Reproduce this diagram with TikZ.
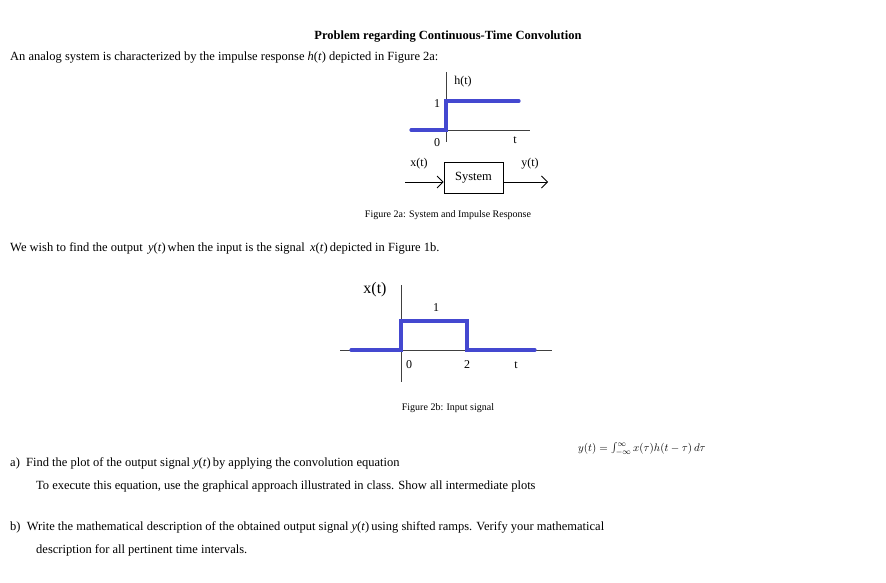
\documentclass[tikz,border=0pt]{standalone}
\usepackage{fontspec}
\setmainfont{Liberation Serif}
\usetikzlibrary{arrows.meta}
\begin{document}
\begin{tikzpicture}[x=1pt,y=-1pt,
  txt/.style={anchor=west,inner sep=0,font=\fontsize{12.5}{14}\selectfont},
  lbl/.style={inner sep=0,font=\fontsize{12}{14}\selectfont},
  figcap/.style={inner sep=0,font=\fontsize{10}{12}\selectfont},
  sig/.style={draw={rgb,255:red,68;green,72;blue,208},line width=3.2pt,line cap=round},
  ax/.style={draw=black!75,line width=0.6pt}]
\useasboundingbox (0,0) rectangle (886,583);
\node[inner sep=0,font=\bfseries\fontsize{12.5}{14}\selectfont] (title) at (448,37) {Problem regarding Continuous-Time Convolution};
\node[txt] (l1) at (10,58) {An analog system is characterized by the impulse response \textit{h}(\textit{t}) depicted in Figure 2a:};
% h(t) plot
\draw[ax] (446,72) -- (446,142);
\draw[ax] (410,130) -- (530,130);
\draw[sig] (411,130) -- (446,130) -- (446,101) -- (519,101);
\node[lbl] (ht) at (463,82) {h(t)};
\node[lbl] (h1) at (437,104) {1};
\node[lbl] (h0) at (437,143) {0};
\node[lbl] (hT) at (515,140) {t};
% system
\node[draw,line width=0.8pt,minimum width=59,minimum height=31,inner sep=0,font=\fontsize{12.5}{14}\selectfont] (sys) at (473.5,177.5) {System};
\coordinate (in) at (405,182);
\coordinate (out) at (548,182);
\draw[line width=0.8pt,-{Straight Barb[length=6pt]}] (in) -- (in -| sys.west);
\draw[line width=0.8pt,-{Straight Barb[length=6pt]}] (out -| sys.east) -- (out);
\node[lbl] (xl) at (419,164) {x(t)};
\node[lbl] (yl) at (530,164) {y(t)};
\node[figcap] (c1) at (448,215) {Figure 2a: System and Impulse Response};
\node[txt] (l2) at (10,248) {We wish to find the output \,\textit{y}(\textit{t})\,when the input is the signal \,\textit{x}(\textit{t})\,depicted in Figure 1b.};
% x(t) plot
\draw[ax] (401,285) -- (401,382);
\draw[ax] (340,350) -- (552,350);
\draw[sig] (351,350) -- (401,350) -- (401,321) -- (467,321) -- (467,350) -- (535,350);
\node[inner sep=0,font=\fontsize{16}{18}\selectfont] (xt) at (375,290) {x(t)};
\node[lbl] (x1) at (436,308) {1};
\node[lbl] (x0) at (409,365) {0};
\node[lbl] (x2) at (467,365) {2};
\node[lbl] (xT) at (516,365) {t};
\node[figcap] (c2) at (448,408) {Figure 2b: Input signal};
% questions
\node[txt] (a) at (10,463) {a)\enspace Find the plot of the output signal \textit{y}(\textit{t})\,by applying the convolution equation};
\node[inner sep=0,anchor=west,font=\fontsize{11}{13}\selectfont] (eq) at (578,449) {$y(t)=\int_{-\infty}^{\infty}x(\tau)h(t-\tau)\,d\tau$};
\node[txt] (a2) at (36,487) {To execute this equation, use the graphical approach illustrated in class. Show all intermediate plots};
\node[txt] (b) at (10,527) {b)\enspace Write the mathematical description of the obtained output signal \textit{y}(\textit{t})\,using shifted ramps. Verify your mathematical};
\node[txt] (b2) at (36,550) {description for all pertinent time intervals.};
\end{tikzpicture}
\end{document}
